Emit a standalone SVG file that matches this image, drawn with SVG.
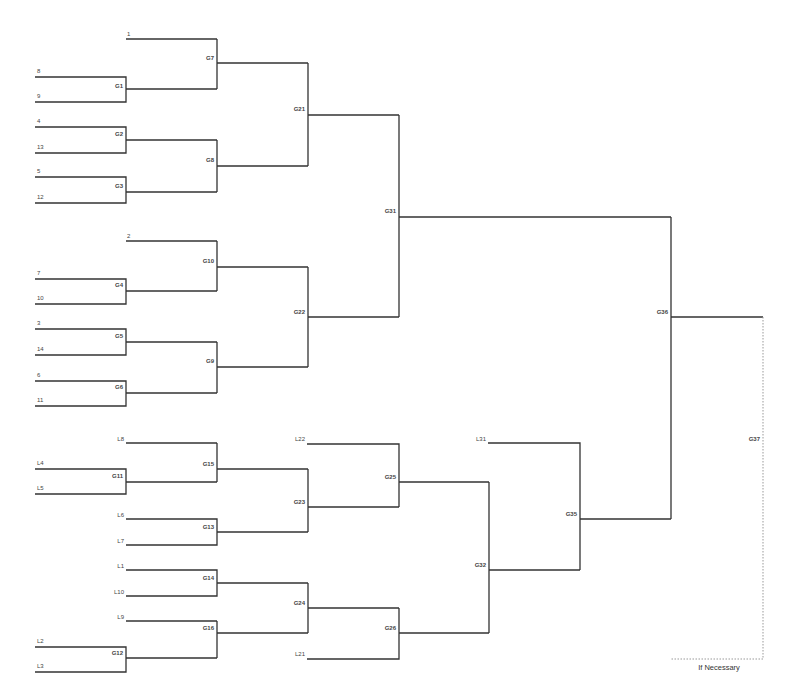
<svg xmlns="http://www.w3.org/2000/svg" width="794" height="690" viewBox="0 0 794 690">
<style>
.ln{fill:none;stroke:#333;stroke-width:1.3}
.dot{fill:none;stroke:#999;stroke-width:1;stroke-dasharray:1.5 1.5}
text{font-family:"Liberation Sans",Arial,sans-serif;font-size:6px;fill:#444}
.g{text-anchor:end;font-weight:bold}
.sr{text-anchor:end}
.nec{font-size:7.5px;fill:#333;text-anchor:middle}
</style>
<rect width="794" height="690" fill="#fff"/>
<g id="connectors">
<path class="ln" d="M126 39H217"/>
<path class="ln" d="M35 77H126V102H35M126 89H217"/>
<path class="ln" d="M217 39V89M217 63H308"/>
<path class="ln" d="M35 127H126V153H35M126 140H217"/>
<path class="ln" d="M35 177H126V203H35M126 192H217"/>
<path class="ln" d="M217 140V192M217 166H308"/>
<path class="ln" d="M308 63V166M308 115H399"/>
<path class="ln" d="M126 241H217"/>
<path class="ln" d="M35 279H126V304H35M126 291H217"/>
<path class="ln" d="M217 241V291M217 267H308"/>
<path class="ln" d="M35 329H126V355H35M126 342H217"/>
<path class="ln" d="M35 381H126V406H35M126 393H217"/>
<path class="ln" d="M217 342V393M217 367H308"/>
<path class="ln" d="M308 267V367M308 317H399"/>
<path class="ln" d="M399 115V317M399 217H671"/>
<path class="ln" d="M671 217V519M671 317H763"/>
<path class="dot" d="M763 317V659H671"/>
<path class="ln" d="M126 443H217"/>
<path class="ln" d="M35 469H126V494H35M126 482H217"/>
<path class="ln" d="M217 443V482M217 469H308"/>
<path class="ln" d="M126 519H217V545H126M217 532H308"/>
<path class="ln" d="M308 469V532M308 507H399"/>
<path class="ln" d="M126 570H217V596H126M217 583H308"/>
<path class="ln" d="M126 621H217"/>
<path class="ln" d="M35 647H126V672H35M126 658H217"/>
<path class="ln" d="M217 621V658M217 633H308"/>
<path class="ln" d="M308 583V633M308 608H399"/>
<path class="ln" d="M307 444H399V507M399 482H489"/>
<path class="ln" d="M307 659H399V608M399 633H489"/>
<path class="ln" d="M489 482V633M489 570H580"/>
<path class="ln" d="M488 443H580V570M580 519H671"/>
</g>
<g id="seeds">
<text x="127" y="36">1</text>
<text x="37" y="73">8</text>
<text x="37" y="98">9</text>
<text x="37" y="123">4</text>
<text x="37" y="149">13</text>
<text x="37" y="173">5</text>
<text x="37" y="199">12</text>
<text x="127" y="238">2</text>
<text x="37" y="275">7</text>
<text x="37" y="300">10</text>
<text x="37" y="325">3</text>
<text x="37" y="351">14</text>
<text x="37" y="377">6</text>
<text x="37" y="402">11</text>
<text class="sr" x="124" y="441">L8</text>
<text x="37" y="465">L4</text>
<text x="37" y="490">L5</text>
<text class="sr" x="124" y="517">L6</text>
<text class="sr" x="124" y="543">L7</text>
<text class="sr" x="124" y="568">L1</text>
<text class="sr" x="124" y="594">L10</text>
<text class="sr" x="124" y="619">L9</text>
<text x="37" y="643">L2</text>
<text x="37" y="668">L3</text>
<text class="sr" x="305" y="441">L22</text>
<text class="sr" x="305" y="656">L21</text>
<text class="sr" x="486" y="441">L31</text>
</g>
<g id="G1"><text class="g" x="123" y="88">G1</text></g>
<g id="G2"><text class="g" x="123" y="136">G2</text></g>
<g id="G3"><text class="g" x="123" y="188">G3</text></g>
<g id="G4"><text class="g" x="123" y="287">G4</text></g>
<g id="G5"><text class="g" x="123" y="338">G5</text></g>
<g id="G6"><text class="g" x="123" y="389">G6</text></g>
<g id="G7"><text class="g" x="214" y="60">G7</text></g>
<g id="G8"><text class="g" x="214" y="162">G8</text></g>
<g id="G9"><text class="g" x="214" y="363">G9</text></g>
<g id="G10"><text class="g" x="214" y="263">G10</text></g>
<g id="G11"><text class="g" x="123" y="478">G11</text></g>
<g id="G12"><text class="g" x="123" y="655">G12</text></g>
<g id="G13"><text class="g" x="214" y="529">G13</text></g>
<g id="G14"><text class="g" x="214" y="580">G14</text></g>
<g id="G15"><text class="g" x="214" y="466">G15</text></g>
<g id="G16"><text class="g" x="214" y="630">G16</text></g>
<g id="G21"><text class="g" x="305" y="111">G21</text></g>
<g id="G22"><text class="g" x="305" y="314">G22</text></g>
<g id="G23"><text class="g" x="305" y="504">G23</text></g>
<g id="G24"><text class="g" x="305" y="605">G24</text></g>
<g id="G25"><text class="g" x="396" y="479">G25</text></g>
<g id="G26"><text class="g" x="396" y="630">G26</text></g>
<g id="G31"><text class="g" x="396" y="213">G31</text></g>
<g id="G32"><text class="g" x="486" y="567">G32</text></g>
<g id="G35"><text class="g" x="577" y="516">G35</text></g>
<g id="G36"><text class="g" x="668" y="314">G36</text></g>
<g id="G37"><text class="g" x="760" y="441">G37</text></g>
<g id="note"><text class="nec" x="719" y="670">If Necessary</text></g>
</svg>
